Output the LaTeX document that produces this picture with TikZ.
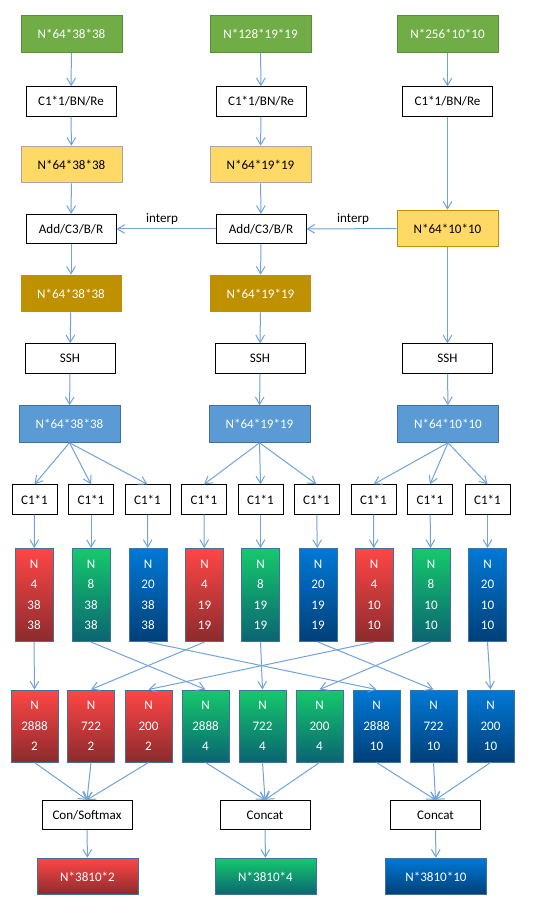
\documentclass[tikz,border=0pt]{standalone}
\usepackage{fontspec}
\setmainfont{Carlito}
\usetikzlibrary{arrows.meta}
\definecolor{linkblue}{HTML}{6FA3DA}
\definecolor{leafgreen}{HTML}{70AD47}
\definecolor{leafedge}{HTML}{5A8F38}
\definecolor{butter}{HTML}{FFD966}
\definecolor{gold}{HTML}{BF9000}
\definecolor{skyblue}{HTML}{5B9BD5}
\definecolor{steel}{HTML}{41719C}
\definecolor{redtop}{HTML}{FF4646}
\definecolor{redbot}{HTML}{8C2B2D}
\definecolor{greentop}{HTML}{15C96C}
\definecolor{greenbot}{HTML}{0B6472}
\definecolor{bluetop}{HTML}{0079D6}
\definecolor{bluebot}{HTML}{003F78}
\begin{document}
\begin{tikzpicture}[x=0.75pt,y=-0.75pt,
	every node/.style={font=\fontsize{9.8}{11}\selectfont, inner sep=0pt, align=center},
	wide/.style={line width=0.75pt, minimum width=75.75pt, minimum height=27.4pt, text=white},
	op/.style={draw=black, fill=white, line width=0.75pt, minimum width=67.5pt, minimum height=22pt},
	head/.style={op, minimum width=33.75pt},
	tall/.style={draw=steel, line width=0.75pt, minimum width=28.5pt, minimum height=69.75pt, text=white, font=\fontsize{9.8}{15.3}\selectfont},
	flat/.style={tall, minimum width=35.25pt, minimum height=54pt},
	redfill/.style={top color=redtop, bottom color=redbot},
	greenfill/.style={top color=greentop, bottom color=greenbot},
	bluefill/.style={top color=bluetop, bottom color=bluebot},
	link/.style={draw=linkblue, line width=0.75pt, -{Straight Barb[length=5.5pt,width=6.5pt]}}]
	\useasboundingbox (0,0) rectangle (555,923);
	% Inputs
	\node[wide, fill=leafgreen, draw=leafedge] (inL) at (71.5,34) {N*64*38*38};
	\node[wide, fill=leafgreen, draw=leafedge] (inM) at (260.5,34) {N*128*19*19};
	\node[wide, fill=leafgreen, draw=leafedge] (inR) at (447.5,34) {N*256*10*10};
	\node[op] (cbrL) at (71,101.5) {C1*1/BN/Re};
	\node[op] (cbrM) at (261,101.5) {C1*1/BN/Re};
	\node[op] (cbrR) at (447.5,101.5) {C1*1/BN/Re};
	\node[wide, fill=butter, draw=black!35, text=black] (latL) at (71.5,164.5) {N*64*38*38};
	\node[wide, fill=butter, draw=black!35, text=black] (latM) at (260.5,164.5) {N*64*19*19};
	\node[wide, fill=butter, draw=gold, text=black] (latR) at (447.5,228.5) {N*64*10*10};
	% Fusion
	\node[op] (addL) at (71,229) {Add/C3/B/R};
	\node[op] (addM) at (261,229) {Add/C3/B/R};
	\node (interpL) at (162,219) {interp};
	\node (interpR) at (353,219) {interp};
	\node[wide, fill=gold] (fusL) at (71,293.5) {N*64*38*38};
	\node[wide, fill=gold] (fusM) at (260.5,293.5) {N*64*19*19};
	\node[op] (sshL) at (70,358.5) {SSH};
	\node[op] (sshM) at (260,358.5) {SSH};
	\node[op] (sshR) at (447.5,358.5) {SSH};
	\node[wide, fill=skyblue, draw=steel] (featL) at (69.5,424) {N*64*38*38};
	\node[wide, fill=skyblue, draw=steel] (featM) at (259.5,424) {N*64*19*19};
	\node[wide, fill=skyblue, draw=steel] (featR) at (448,424) {N*64*10*10};
	% Heads
	\node[head] (headA) at (34.5,499.5) {C1*1};
	\node[head] (headB) at (91,499.5) {C1*1};
	\node[head] (headC) at (147.5,499.5) {C1*1};
	\node[head] (headD) at (204,499.5) {C1*1};
	\node[head] (headE) at (260.5,499.5) {C1*1};
	\node[head] (headF) at (316.5,499.5) {C1*1};
	\node[head] (headG) at (373.5,499.5) {C1*1};
	\node[head] (headH) at (430,499.5) {C1*1};
	\node[head] (headI) at (487.5,499.5) {C1*1};
	\node[tall, redfill] (mapA) at (34,595) {N\\4\\38\\38};
	\node[tall, greenfill] (mapB) at (91,595) {N\\8\\38\\38};
	\node[tall, bluefill] (mapC) at (148,595) {N\\20\\38\\38};
	\node[tall, redfill] (mapD) at (204.5,595) {N\\4\\19\\19};
	\node[tall, greenfill] (mapE) at (260.5,595) {N\\8\\19\\19};
	\node[tall, bluefill] (mapF) at (318,595) {N\\20\\19\\19};
	\node[tall, redfill] (mapG) at (374,595) {N\\4\\10\\10};
	\node[tall, greenfill] (mapH) at (431,595) {N\\8\\10\\10};
	\node[tall, bluefill] (mapI) at (487.5,595) {N\\20\\10\\10};
	% Reshaped maps
	\node[flat, redfill] (flatA) at (34.5,726) {N\\2888\\2};
	\node[flat, redfill] (flatB) at (91,726) {N\\722\\2};
	\node[flat, redfill] (flatC) at (148.5,726) {N\\200\\2};
	\node[flat, greenfill] (flatD) at (205.5,726) {N\\2888\\4};
	\node[flat, greenfill] (flatE) at (262.5,726) {N\\722\\4};
	\node[flat, greenfill] (flatF) at (319.5,726) {N\\200\\4};
	\node[flat, bluefill] (flatG) at (376.5,726) {N\\2888\\10};
	\node[flat, bluefill] (flatH) at (433.5,726) {N\\722\\10};
	\node[flat, bluefill] (flatI) at (490.5,726) {N\\200\\10};
	% Outputs
	\node[op] (catL) at (87,815) {Con/Softmax};
	\node[op] (catM) at (265,815) {Concat};
	\node[op] (catR) at (435.5,815) {Concat};
	\node[wide, redfill, draw=steel] (outL) at (87.5,876.5) {N*3810*2};
	\node[wide, greenfill, draw=steel] (outM) at (265.5,876.5) {N*3810*4};
	\node[wide, bluefill, draw=steel] (outR) at (436,876.5) {N*3810*10};
	% Connectors
	\draw[link] (inL) -- (cbrL);
	\draw[link] (inM) -- (cbrM);
	\draw[link] (inR) -- (cbrR);
	\draw[link] (cbrL) -- (latL);
	\draw[link] (cbrM) -- (latM);
	\draw[link] (cbrR) -- (latR);
	\draw[link] (latL) -- (addL);
	\draw[link] (latM) -- (addM);
	\draw[link] (latR) -- (addM);
	\draw[link] (addM) -- (addL);
	\draw[link] (addL) -- (fusL);
	\draw[link] (addM) -- (fusM);
	\draw[link] (fusL) -- (sshL);
	\draw[link] (fusM) -- (sshM);
	\draw[link] (latR) -- (sshR);
	\draw[link] (sshL) -- (featL);
	\draw[link] (sshM) -- (featM);
	\draw[link] (sshR) -- (featR);
	\draw[link] (featL.south) -- (headA.north);
	\draw[link] (featL.south) -- (headB.north);
	\draw[link] (featL.south) -- (headC.north);
	\draw[link] (featM.south) -- (headD.north);
	\draw[link] (featM.south) -- (headE.north);
	\draw[link] (featM.south) -- (headF.north);
	\draw[link] (featR.south) -- (headG.north);
	\draw[link] (featR.south) -- (headH.north);
	\draw[link] (featR.south) -- (headI.north);
	\draw[link] (headA) -- (mapA);
	\draw[link] (headB) -- (mapB);
	\draw[link] (headC) -- (mapC);
	\draw[link] (headD) -- (mapD);
	\draw[link] (headE) -- (mapE);
	\draw[link] (headF) -- (mapF);
	\draw[link] (headG) -- (mapG);
	\draw[link] (headH) -- (mapH);
	\draw[link] (headI) -- (mapI);
	\draw[link] (mapA.south) -- (flatA.north);
	\draw[link] (mapB.south) -- (flatD.north);
	\draw[link] (mapC.south) -- (flatG.north);
	\draw[link] (mapD.south) -- (flatB.north);
	\draw[link] (mapE.south) -- (flatE.north);
	\draw[link] (mapF.south) -- (flatH.north);
	\draw[link] (mapG.south) -- (flatC.north);
	\draw[link] (mapH.south) -- (flatF.north);
	\draw[link] (mapI.south) -- (flatI.north);
	\draw[link] (flatA.south) -- (catL.north);
	\draw[link] (flatB.south) -- (catL.north);
	\draw[link] (flatC.south) -- (catL.north);
	\draw[link] (flatD.south) -- (catM.north);
	\draw[link] (flatE.south) -- (catM.north);
	\draw[link] (flatF.south) -- (catM.north);
	\draw[link] (flatG.south) -- (catR.north);
	\draw[link] (flatH.south) -- (catR.north);
	\draw[link] (flatI.south) -- (catR.north);
	\draw[link] (catL) -- (outL);
	\draw[link] (catM) -- (outM);
	\draw[link] (catR) -- (outR);
\end{tikzpicture}
\end{document}
